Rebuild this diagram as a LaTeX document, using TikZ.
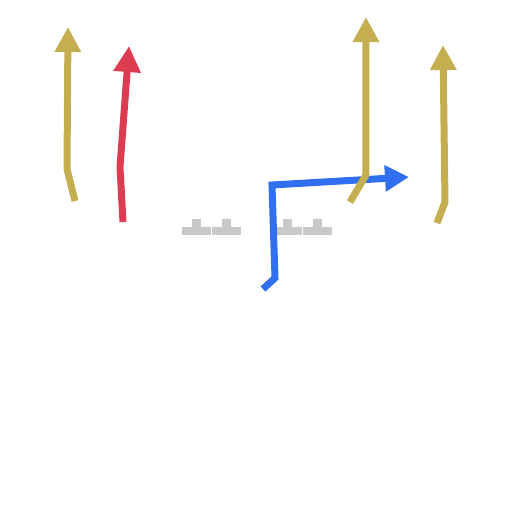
\documentclass[tikz,border=0pt]{standalone}
\usetikzlibrary{arrows.meta}
\definecolor{gold}{RGB}{196,174,80}
\definecolor{rred}{RGB}{220,60,82}
\definecolor{rblue}{RGB}{48,112,240}
\definecolor{lgray}{RGB}{200,200,200}
\tikzset{
  route/.style={line width=0.14cm, -{Triangle[length=0.5cm,width=0.5cm]}},
  lineman/.style={fill=lgray, draw=none},
}
\begin{document}
\begin{tikzpicture}[x=0.02cm,y=-0.02cm]
\useasboundingbox (0,0) rectangle (512,512);
% linemen
\foreach \x in {182,212,273,303}{
  \fill[lineman] (\x,227) rectangle ++(29,8);
  \fill[lineman] ({\x+10},219) rectangle ++(9,8);
}
% routes
\coordinate (g1s) at (75,201); \coordinate (g1b) at (67,169); \coordinate (g1e) at (68,27);
\draw[route, gold] (g1s) -- (g1b) -- (g1e);
\coordinate (rs) at (123,222); \coordinate (rb) at (120,167); \coordinate (re) at (129,46);
\draw[route, rred, -{Triangle[length=0.52cm,width=0.52cm]}] (rs) -- (rb) -- (re);
\coordinate (bs) at (263,289); \coordinate (bb) at (275,278); \coordinate (bc) at (272,185); \coordinate (be) at (409,177);
\draw[route, rblue, -{Triangle[length=0.48cm,width=0.5cm]}] (bs) -- (bb) -- (bc) -- (be);
\coordinate (g2s) at (350,202); \coordinate (g2b) at (366,175); \coordinate (g2e) at (366,17);
\draw[route, gold] (g2s) -- (g2b) -- (g2e);
\coordinate (g3s) at (437,223); \coordinate (g3b) at (445,202); \coordinate (g3e) at (443,45);
\draw[route, gold] (g3s) -- (g3b) -- (g3e);
\end{tikzpicture}
\end{document}
